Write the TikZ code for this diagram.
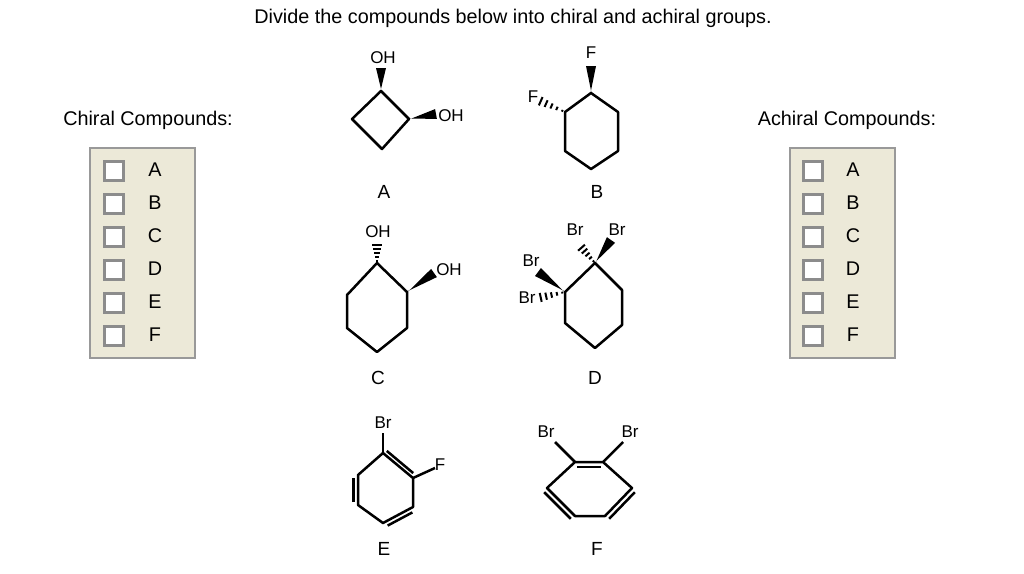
\documentclass[tikz,border=0pt]{standalone}
\usepackage{fontspec}
\setmainfont{Liberation Sans}
\usetikzlibrary{calc}
\tikzset{
 bond/.style={line width=2.5pt,line join=round},
 lbl/.style={font=\fontsize{17}{18}\selectfont,inner sep=0pt},
 capl/.style={font=\fontsize{19}{20}\selectfont,inner sep=0pt},
 panel/.style={draw=gray!80,line width=2pt,fill={rgb,255:red,236;green,233;blue,216}},
 cbox/.style={draw=gray!90,line width=2.8pt,fill=white,minimum size=19pt,inner sep=0pt},
 hd/.style={font=\fontsize{19.8}{21}\selectfont,inner sep=0pt}
}
\newcommand{\wdg}[2]{\fill ($(#1)!0.5pt!90:(#2)$) -- ($(#2)!5pt!90:(#1)$) -- ($(#2)!5pt!-90:(#1)$) -- ($(#1)!0.5pt!-90:(#2)$) -- cycle;}
\newcommand{\hsh}[2]{\foreach \t in {0.1,0.3,0.5,0.7,0.9}{\pgfmathsetmacro{\hw}{0.5+4.5*\t}\coordinate (hp) at ($(#1)!\t!(#2)$); \draw[line width=2pt] ($(hp)!\hw pt!90:(#2)$) -- ($(hp)!\hw pt!-90:(#2)$);}}
\begin{document}
\begin{tikzpicture}[x=1pt,y=-1pt]
\useasboundingbox (0,0) rectangle (1024,573);
\node[hd] (title) at (513,18) {Divide the compounds below into chiral and achiral groups.};
\node[hd] (chh) at (148,120) {Chiral Compounds:};
\node[hd] (ach) at (847,120) {Achiral Compounds:};
\node[panel,minimum width=105pt,minimum height=210pt] (lp) at (142,253) {};
\node[panel,minimum width=105pt,minimum height=210pt] (rp) at (842,253) {};
\foreach \L/\y in {A/171,B/204,C/237,D/270,E/303,F/336}{
 \node[cbox] (lc\L) at (114,\y) {}; \node[hd] (ll\L) at (155,\y-1) {\L};
 \node[cbox] (rc\L) at (813,\y) {}; \node[hd] (rl\L) at (853,\y-1) {\L};
}
% A
\coordinate (a1) at (381,91); \coordinate (a2) at (409,119); \coordinate (a3) at (382,149); \coordinate (a4) at (352,119);
\draw[bond] (a1)--(a2)--(a3)--(a4)--cycle;
\coordinate (a5) at (381,68); \coordinate (a6) at (436,114);
\wdg{a1}{a5} \wdg{a2}{a6}
\node[lbl] (ao1) at (383,58) {OH}; \node[lbl] (ao2) at (451,116) {OH};
\node[capl] (la) at (384,192) {A};
% B
\coordinate (b1) at (591,93); \coordinate (b2) at (618,112); \coordinate (b3) at (618,151); \coordinate (b4) at (591,169); \coordinate (b5) at (565,151); \coordinate (b6) at (565,112);
\draw[bond] (b1)--(b2)--(b3)--(b4)--(b5)--(b6)--cycle;
\coordinate (b7) at (591,66); \coordinate (b8) at (538,100);
\wdg{b1}{b7} \hsh{b6}{b8}
\node[lbl] (bf1) at (591,53) {F}; \node[lbl] (bf2) at (533,97) {F};
\node[capl] (lb) at (597,192) {B};
% C
\coordinate (c1) at (377,263); \coordinate (c2) at (407,292); \coordinate (c3) at (407,328); \coordinate (c4) at (377,352); \coordinate (c5) at (347,328); \coordinate (c6) at (347,295);
\draw[bond] (c1)--(c2)--(c3)--(c4)--(c5)--(c6)--cycle;
\coordinate (c7) at (377,243); \coordinate (c8) at (434,273);
\hsh{c1}{c7} \wdg{c2}{c8}
\node[lbl] (co1) at (378,232) {OH}; \node[lbl] (co2) at (449,270) {OH};
\node[capl] (lc) at (378,378) {C};
% D
\coordinate (d1) at (595,263); \coordinate (d2) at (622,290); \coordinate (d3) at (622,325); \coordinate (d4) at (595,348); \coordinate (d5) at (565,323); \coordinate (d6) at (565,292);
\draw[bond] (d1)--(d2)--(d3)--(d4)--(d5)--(d6)--cycle;
\coordinate (d7) at (580,246); \coordinate (d8) at (611,240); \coordinate (d9) at (538,272); \coordinate (d10) at (538,298);
\hsh{d1}{d7} \wdg{d1}{d8} \wdg{d6}{d9} \hsh{d6}{d10}
\node[lbl] (db1) at (575,230) {Br}; \node[lbl] (db2) at (617,230) {Br};
\node[lbl] (db3) at (531,261) {Br}; \node[lbl] (db4) at (527,298) {Br};
\node[capl] (ld) at (595,378) {D};
% E
\coordinate (e1) at (383,453); \coordinate (e2) at (413,478); \coordinate (e3) at (413,507); \coordinate (e4) at (383,523); \coordinate (e5) at (358,505); \coordinate (e6) at (358,475);
\draw[bond] (e1)--(e2)--(e3)--(e4)--(e5)--(e6)--cycle;
\draw[bond] ($(e1)!3pt!(e2)+(1.5,-4)$) -- ($(e2)!3pt!(e1)+(2.5,-3)$);
\draw[bond] ($(e3)!3pt!(e4)+(2,4)$) -- ($(e4)!3pt!(e3)+(2,4)$);
\draw[bond] ($(e5)!3pt!(e6)+(-4.5,0)$) -- ($(e6)!3pt!(e5)+(-4.5,0)$);
\coordinate (e7) at (383,433); \coordinate (e8) at (435,468);
\draw[bond] (e1)--(e7); \draw[bond] (e2)--(e8);
\node[lbl] (eb) at (383,423) {Br}; \node[lbl] (ef) at (440,465) {F};
\node[capl] (le) at (384,549) {E};
% F
\coordinate (f1) at (575,462); \coordinate (f2) at (603,462); \coordinate (f3) at (632,488); \coordinate (f4) at (605,516); \coordinate (f5) at (575,516); \coordinate (f6) at (547,488);
\draw[bond] (f1)--(f2)--(f3)--(f4)--(f5)--(f6)--cycle;
\draw[bond] ($(f1)!2pt!(f2)+(0,5)$) -- ($(f2)!2pt!(f1)+(0,5)$);
\draw[bond] ($(f6)!1pt!(f5)+(-3.5,3.5)$) -- ($(f5)!1pt!(f6)+(-3.5,3.5)$);
\draw[bond] ($(f3)!1pt!(f4)+(3.5,3.5)$) -- ($(f4)!1pt!(f3)+(3.5,3.5)$);
\coordinate (f7) at (555,442); \coordinate (f8) at (623,442);
\draw[bond] (f1)--(f7); \draw[bond] (f2)--(f8);
\node[lbl] (fb1) at (546,432) {Br}; \node[lbl] (fb2) at (630,432) {Br};
\node[capl] (lf) at (597,549) {F};
\end{tikzpicture}
\end{document}
